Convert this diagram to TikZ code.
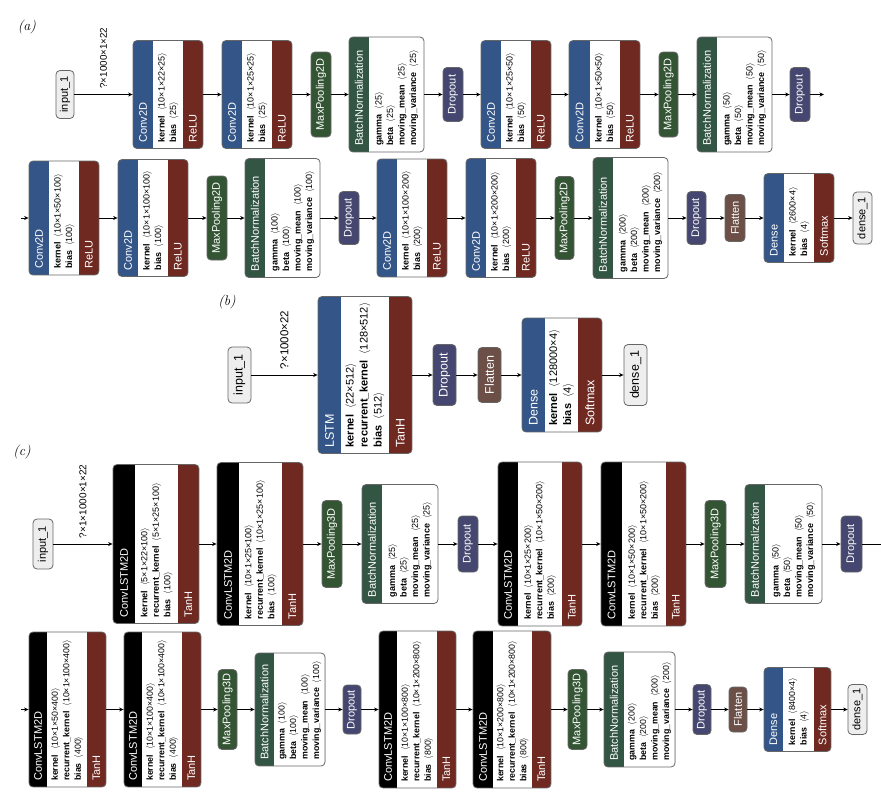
\documentclass[tikz,border=0pt]{standalone}
\usepackage{fontspec}
\usetikzlibrary{arrows.meta}
\newfontfamily\nf{Liberation Sans}
\definecolor{convblue}{HTML}{335588}
\definecolor{actred}{HTML}{702921}
\definecolor{normgreen}{HTML}{335544}
\definecolor{poolgreen}{HTML}{335533}
\definecolor{dropblue}{HTML}{454770}
\definecolor{shapebrown}{HTML}{6C4F47}
\definecolor{inputgrey}{HTML}{EEEEEE}
\definecolor{framegrey}{HTML}{666666}
\newcommand\tfont{}\newcommand\pfont{}\newcommand\lfont{}
\newcommand\pp[2]{\textbf{#1}\ \ $\langle$#2$\rangle$}
\tikzset{
 frame/.style={draw=framegrey, line width=0.8pt, rounded corners=4pt, inner sep=0pt},
 ttext/.style={rotate=90, inner sep=0pt, text=white, font=\tfont},
 ptext/.style={rotate=90, inner sep=0pt, align=left, text=black, font=\pfont},
 smallbox/.style={draw=framegrey, line width=0.8pt, rounded corners=4pt, inner sep=0pt, text=white, font=\tfont},
 arr/.style={line width=0.8pt, -{Stealth[length=4.5pt,width=4pt]}},
 plainline/.style={line width=0.8pt},
 elabel/.style={rotate=90, anchor=west, inner sep=0pt, outer xsep=6pt, font=\lfont},
 plabel/.style={font=\fontsize{14}{16}\selectfont\itshape, inner sep=0pt}
}
\newcommand\Lay[8]{\def\qqN{#1}\def\qqA{#2}\def\qqB{#3}\def\qqC{#4}\def\qqD{#5}\def\qqY{#6}\def\qqH{#7}\def\qqK{#8}\LayDraw}
\newcommand\LayDraw[3]{%
 \pgfmathsetmacro\qqT{\qqY-\qqH/2}%
 \pgfmathsetmacro\qqE{\qqY+\qqH/2}%
 \begin{scope}
  \clip[rounded corners=4pt] (\qqA,\qqT) rectangle (\qqD,\qqE);
  \fill[\qqK] (\qqA,\qqT) rectangle (\qqB,\qqE);
  \fill[actred] (\qqC,\qqT) rectangle (\qqD,\qqE);
  \node[ttext, anchor=west] at ({(\qqA+\qqB)/2},{\qqE-6}) {#1};
  \node[ptext, anchor=west] at ({(\qqB+\qqC)/2},{\qqE-6}) {#2};
  \node[ttext, anchor=west] at ({(\qqC+\qqD)/2},{\qqE-6}) {#3};
 \end{scope}
 \node[frame, minimum width={(\qqD-\qqA)*1pt}, minimum height={\qqH*1pt}] (\qqN) at ({(\qqA+\qqD)/2},\qqY) {};
}
\newcommand\Sm[7]{%
 \node[smallbox, fill=#6, minimum width={(#3-#2)*1pt}, minimum height={#5*1pt}] (#1) at ({(#2+#3)/2},#4) {\rotatebox{90}{#7}};}
\begin{document}
\begin{tikzpicture}[x=1pt,y=-1pt]
\useasboundingbox (0,0) rectangle (881,803);
% ---------------- panel (a)
\def\tfont{\nf\fontsize{11}{12}\selectfont}
\def\pfont{\nf\fontsize{9}{11.5}\selectfont}
\def\lfont{\nf\fontsize{9.8}{12}\selectfont}
\node[plabel] (la) at (27,27) {(a)};
% row 1
\Sm{ina}{56}{74}{94.5}{48}{inputgrey}{\color{black}input\_1}
\Lay{ca1}{133}{153}{183}{203}{94.5}{108}{convblue}{Conv2D}{\pp{kernel}{10×1×22×25}\\\pp{bias}{25}}{ReLU}
\Lay{ca2}{222}{242}{272}{292}{94.5}{108}{convblue}{Conv2D}{\pp{kernel}{10×1×25×25}\\\pp{bias}{25}}{ReLU}
\Sm{mpa1}{311}{331}{94.5}{85}{poolgreen}{MaxPooling2D}
\Lay{bna1}{349}{369}{424}{424}{94.5}{115}{normgreen}{BatchNormalization}{\pp{gamma}{25}\\\pp{beta}{25}\\\pp{moving\_mean}{25}\\\pp{moving\_variance}{25}}{}
\Sm{dra1}{443}{463}{94.5}{54}{dropblue}{Dropout}
\Lay{ca3}{481}{501}{531}{551}{94.5}{108}{convblue}{Conv2D}{\pp{kernel}{10×1×25×50}\\\pp{bias}{50}}{ReLU}
\Lay{ca4}{569}{590}{620}{640}{94.5}{108}{convblue}{Conv2D}{\pp{kernel}{10×1×50×50}\\\pp{bias}{50}}{ReLU}
\Sm{mpa2}{659}{678}{94.5}{85}{poolgreen}{MaxPooling2D}
\Lay{bna2}{697}{717}{772}{772}{94.5}{115}{normgreen}{BatchNormalization}{\pp{gamma}{50}\\\pp{beta}{50}\\\pp{moving\_mean}{50}\\\pp{moving\_variance}{50}}{}
\Sm{dra2}{790}{810}{94.5}{54}{dropblue}{Dropout}
\coordinate (enda) at (824,94.5);
\draw[arr] (ina) -- node[elabel] {?×1000×1×22} (ca1);
\foreach \a/\b in {ca1/ca2, ca2/mpa1, mpa1/bna1, bna1/dra1, dra1/ca3, ca3/ca4, ca4/mpa2, mpa2/bna2, bna2/dra2, dra2/enda}
  \draw[arr] (\a) -- (\b);
% row 2
\coordinate (sta) at (21,218);
\Lay{ca5}{29}{49}{79}{99}{218}{114}{convblue}{Conv2D}{\pp{kernel}{10×1×50×100}\\\pp{bias}{100}}{ReLU}
\Lay{ca6}{118}{138}{168}{188}{218}{117}{convblue}{Conv2D}{\pp{kernel}{10×1×100×100}\\\pp{bias}{100}}{ReLU}
\Sm{mpa3}{207}{227}{218}{84}{poolgreen}{MaxPooling2D}
\Lay{bna3}{245}{265}{320}{320}{218}{119}{normgreen}{BatchNormalization}{\pp{gamma}{100}\\\pp{beta}{100}\\\pp{moving\_mean}{100}\\\pp{moving\_variance}{100}}{}
\Sm{dra3}{339}{359}{218}{53}{dropblue}{Dropout}
\Lay{ca7}{377}{397}{427}{447}{218}{118}{convblue}{Conv2D}{\pp{kernel}{10×1×100×200}\\\pp{bias}{200}}{ReLU}
\Lay{ca8}{466}{486}{516}{536}{218}{119}{convblue}{Conv2D}{\pp{kernel}{10×1×200×200}\\\pp{bias}{200}}{ReLU}
\Sm{mpa4}{555}{574}{218}{83}{poolgreen}{MaxPooling2D}
\Lay{bna4}{593}{613}{668}{668}{218}{121}{normgreen}{BatchNormalization}{\pp{gamma}{200}\\\pp{beta}{200}\\\pp{moving\_mean}{200}\\\pp{moving\_variance}{200}}{}
\Sm{dra4}{687}{706}{218}{53}{dropblue}{Dropout}
\Sm{fla}{725}{745}{218}{47}{shapebrown}{Flatten}
\Lay{dea}{764}{784}{814}{834}{218}{89}{convblue}{Dense}{\pp{kernel}{2600×4}\\\pp{bias}{4}}{Softmax}
\Sm{outa}{853}{872}{218}{52}{inputgrey}{\color{black}dense\_1}
\foreach \a/\b in {sta/ca5, ca5/ca6, ca6/mpa3, mpa3/bna3, bna3/dra3, dra3/ca7, ca7/ca8, ca8/mpa4, mpa4/bna4, bna4/dra4, dra4/fla, fla/dea, dea/outa}
  \draw[arr] (\a) -- (\b);
% ---------------- panel (b)
\def\tfont{\nf\fontsize{12.5}{14}\selectfont}
\def\pfont{\nf\fontsize{11}{14}\selectfont}
\def\lfont{\nf\fontsize{11.5}{13}\selectfont}
\node[plabel] (lb) at (227,302) {(b)};
\Sm{inb}{228}{251}{375}{56}{inputgrey}{\color{black}input\_1}
\Lay{lstm}{318}{341}{389}{412}{375}{157}{convblue}{LSTM}{\pp{kernel}{22×512}\\\pp{recurrent\_kernel}{128×512}\\\pp{bias}{512}}{TanH}
\Sm{drb}{433}{456}{375}{61}{dropblue}{Dropout}
\Sm{flb}{478}{501}{375}{55}{shapebrown}{Flatten}
\Lay{deb}{522}{545}{578}{602}{375}{114}{convblue}{Dense}{\pp{kernel}{128000×4}\\\pp{bias}{4}}{Softmax}
\Sm{outb}{624}{647}{375}{61}{inputgrey}{\color{black}dense\_1}
\draw[arr] (inb) -- node[elabel] {?×1000×22} (lstm);
\foreach \a/\b in {lstm/drb, drb/flb, flb/deb, deb/outb}
  \draw[arr] (\a) -- (\b);
% ---------------- panel (c)
\def\tfont{\nf\fontsize{11}{12}\selectfont}
\def\pfont{\nf\fontsize{9}{11.5}\selectfont}
\def\lfont{\nf\fontsize{10}{12}\selectfont}
\node[plabel] (lc) at (22,452) {(c)};
% row 1
\Sm{inc}{33}{53}{544}{50}{inputgrey}{\color{black}input\_1}
\Lay{cl1}{113}{135}{178}{199}{544}{159}{black}{ConvLSTM2D}{\pp{kernel}{5×1×22×100}\\\pp{recurrent\_kernel}{5×1×25×100}\\\pp{bias}{100}}{TanH}
\Lay{cl2}{217}{239}{282}{303}{544}{163}{black}{ConvLSTM2D}{\pp{kernel}{10×1×25×100}\\\pp{recurrent\_kernel}{10×1×25×100}\\\pp{bias}{100}}{TanH}
\Sm{mpc1}{322}{342}{544}{87}{poolgreen}{MaxPooling3D}
\Lay{bnc1}{362}{382}{438}{438}{544}{119}{normgreen}{BatchNormalization}{\pp{gamma}{25}\\\pp{beta}{25}\\\pp{moving\_mean}{25}\\\pp{moving\_variance}{25}}{}
\Sm{drc1}{458}{478}{544}{56}{dropblue}{Dropout}
\Lay{cl3}{498}{518}{562}{582}{544}{164}{black}{ConvLSTM2D}{\pp{kernel}{10×1×25×200}\\\pp{recurrent\_kernel}{10×1×50×200}\\\pp{bias}{200}}{TanH}
\Lay{cl4}{601}{622}{666}{686}{544}{164}{black}{ConvLSTM2D}{\pp{kernel}{10×1×50×200}\\\pp{recurrent\_kernel}{10×1×50×200}\\\pp{bias}{200}}{TanH}
\Sm{mpc2}{705}{726}{544}{87}{poolgreen}{MaxPooling3D}
\Lay{bnc2}{745}{765}{822}{822}{544}{119}{normgreen}{BatchNormalization}{\pp{gamma}{50}\\\pp{beta}{50}\\\pp{moving\_mean}{50}\\\pp{moving\_variance}{50}}{}
\Sm{drc2}{841}{862}{544}{56}{dropblue}{Dropout}
\coordinate (endc) at (881,544);
\draw[arr] (inc) -- node[elabel] {?×1×1000×1×22} (cl1);
\foreach \a/\b in {cl1/cl2, cl2/mpc1, mpc1/bnc1, bnc1/drc1, drc1/cl3, cl3/cl4, cl4/mpc2, mpc2/bnc2, bnc2/drc2}
  \draw[arr] (\a) -- (\b);
\draw[plainline] (drc2) -- (endc);
% row 2
\def\pfont{\nf\fontsize{8.8}{11.5}\selectfont}
\coordinate (stc) at (21,709.5);
\Lay{cl5}{29}{47}{87}{106}{709.5}{155}{black}{ConvLSTM2D}{\pp{kernel}{10×1×50×400}\\\pp{recurrent\_kernel}{10×1×100×400}\\\pp{bias}{400}}{TanH}
\Lay{cl6}{124}{142}{182}{201}{709.5}{155}{black}{ConvLSTM2D}{\pp{kernel}{10×1×100×400}\\\pp{recurrent\_kernel}{10×1×100×400}\\\pp{bias}{400}}{TanH}
\Sm{mpc3}{218}{237}{709.5}{80}{poolgreen}{MaxPooling3D}
\Lay{bnc3}{255}{274}{325}{325}{709.5}{113}{normgreen}{BatchNormalization}{\pp{gamma}{100}\\\pp{beta}{100}\\\pp{moving\_mean}{100}\\\pp{moving\_variance}{100}}{}
\Sm{drc3}{343}{361}{709.5}{49}{dropblue}{Dropout}
\Lay{cl7}{379}{397}{437}{456}{709.5}{157}{black}{ConvLSTM2D}{\pp{kernel}{10×1×100×800}\\\pp{recurrent\_kernel}{10×1×200×800}\\\pp{bias}{800}}{TanH}
\Lay{cl8}{473}{493}{532}{551}{709.5}{157}{black}{ConvLSTM2D}{\pp{kernel}{10×1×200×800}\\\pp{recurrent\_kernel}{10×1×200×800}\\\pp{bias}{800}}{TanH}
\Sm{mpc4}{568}{587}{709.5}{80}{poolgreen}{MaxPooling3D}
\Lay{bnc4}{604}{624}{675}{675}{709.5}{115}{normgreen}{BatchNormalization}{\pp{gamma}{200}\\\pp{beta}{200}\\\pp{moving\_mean}{200}\\\pp{moving\_variance}{200}}{}
\Sm{drc4}{693}{711}{709.5}{50}{dropblue}{Dropout}
\Sm{flc}{729}{747}{709.5}{45}{shapebrown}{Flatten}
\Lay{dec}{764}{783}{814}{831}{709.5}{84}{convblue}{Dense}{\pp{kernel}{8400×4}\\\pp{bias}{4}}{Softmax}
\Sm{outc}{848}{867}{709.5}{50}{inputgrey}{\color{black}dense\_1}
\foreach \a/\b in {stc/cl5, cl5/cl6, cl6/mpc3, mpc3/bnc3, bnc3/drc3, drc3/cl7, cl7/cl8, cl8/mpc4, mpc4/bnc4, bnc4/drc4, drc4/flc, flc/dec, dec/outc}
  \draw[arr] (\a) -- (\b);
\end{tikzpicture}
\end{document}
